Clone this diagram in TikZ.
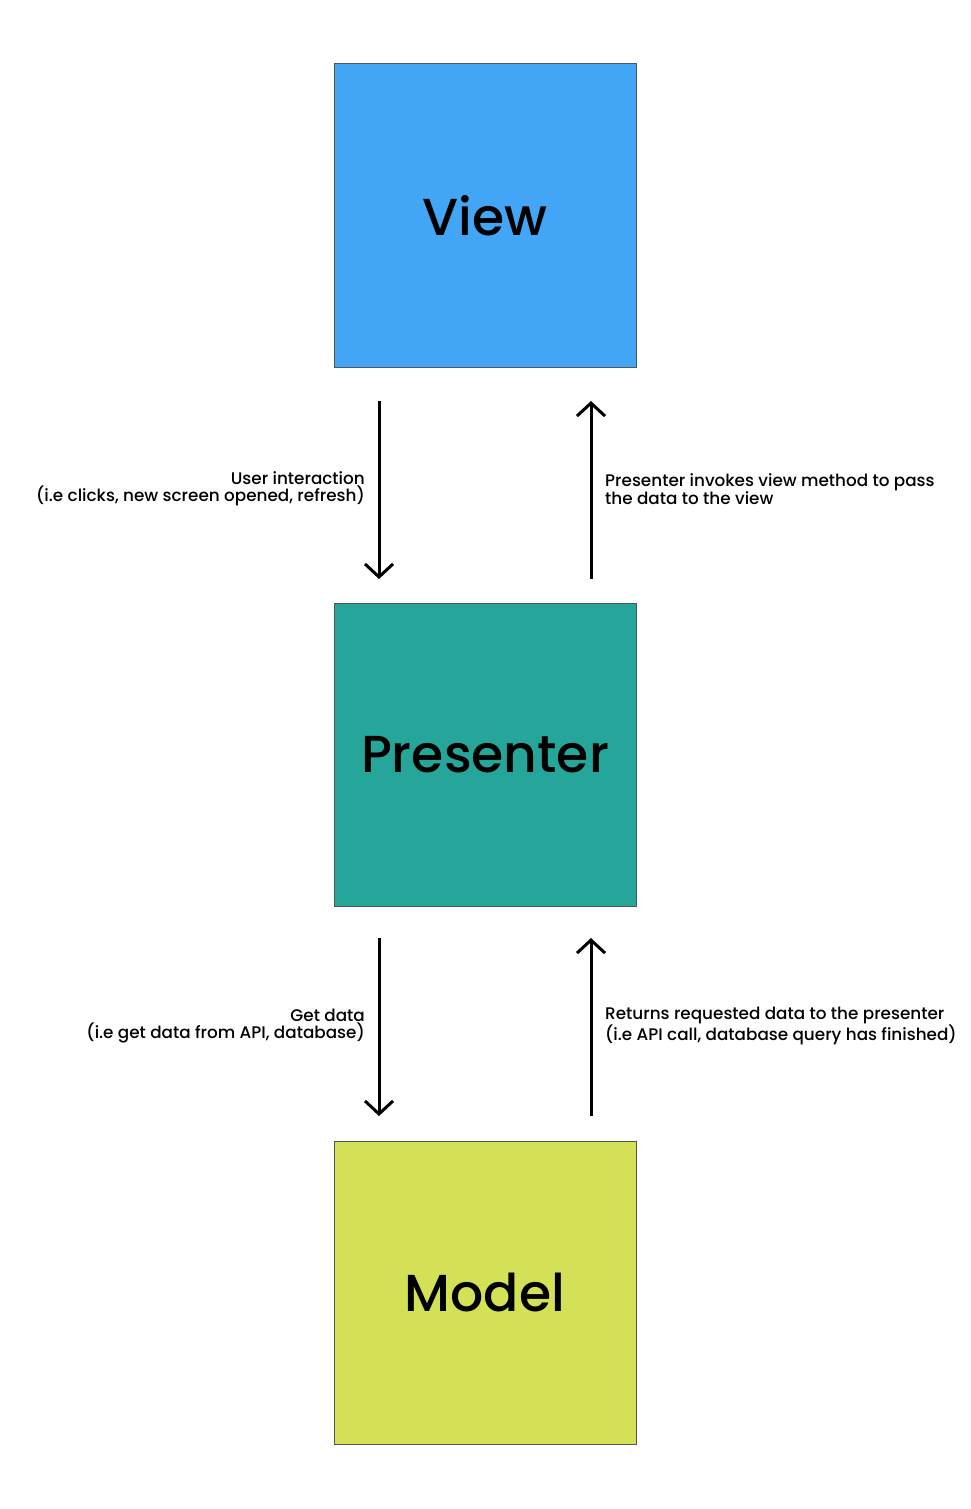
\documentclass[tikz,border=0pt]{standalone}
\usepackage{fontspec}
\setmainfont{Poppins}[UprightFont={* Medium}]
\usetikzlibrary{arrows.meta}
\definecolor{viewc}{HTML}{42A5F5}
\definecolor{presc}{HTML}{26A69A}
\definecolor{modc}{HTML}{D4E157}
\definecolor{edgec}{HTML}{555555}
\tikzset{
  block/.style={draw=edgec, line width=1pt, minimum width=302pt, minimum height=303pt, inner sep=0pt, font=\fontsize{52}{54}\selectfont},
  flow/.style={line width=3pt, -{Straight Barb[length=13pt, width=28pt, line width=3pt]}},
  lbl/.style={font=\fontsize{16.8}{17}\selectfont, inner sep=0pt},
}
\begin{document}
\begin{tikzpicture}[x=1pt,y=-1pt]
\useasboundingbox (0,0) rectangle (970,1509);
\node[block, fill=viewc] (view) at (485,215.5) {View};
\node[block, fill=presc] (pres) at (485,754.5) {Presenter};
\node[block, fill=modc] (model) at (485,1292.5) {Model};
\coordinate (a1s) at (379,401);
\coordinate (a1e) at (379,579);
\coordinate (a2s) at (591,579);
\coordinate (a2e) at (591,401);
\coordinate (a3s) at (379,938);
\coordinate (a3e) at (379,1116);
\coordinate (a4s) at (591,1116);
\coordinate (a4e) at (591,938);
\draw[flow] (a1s) -- (a1e);
\draw[flow] (a2s) -- (a2e);
\draw[flow] (a3s) -- (a3e);
\draw[flow] (a4s) -- (a4e);
\node[lbl, align=right, anchor=east] (l1) at (365,489) {User interaction\\(i.e clicks, new screen opened, refresh)};
\node[lbl, align=left, anchor=west] (l2) at (605,489) {Presenter invokes view method to pass\\the data to the view};
\node[lbl, align=right, anchor=east] (l3) at (365,1026) {Get data\\(i.e get data from API, database)};
\node[lbl, align=left, anchor=west] (l4) at (605,1026) {Returns requested data to the presenter\\(i.e API call, database query has finished)};
\end{tikzpicture}
\end{document}
